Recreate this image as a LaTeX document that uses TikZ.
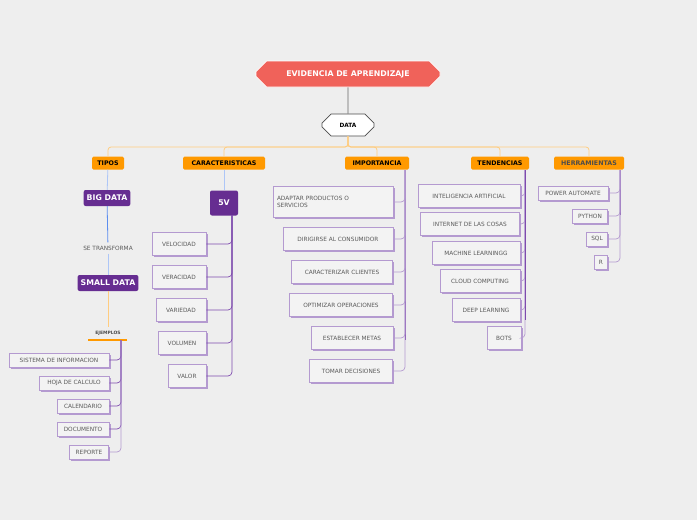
\documentclass[tikz,border=0pt]{standalone}
\usepackage{fontspec}
\setmainfont{DejaVu Sans}
\usetikzlibrary{shadows,shapes.misc}
\definecolor{bgc}{HTML}{EEEEEE}
\definecolor{titlec}{HTML}{F0625A}
\definecolor{orangec}{HTML}{FF9900}
\definecolor{purplec}{HTML}{662D91}
\definecolor{leafline}{HTML}{B49AD0}
\definecolor{spinec}{HTML}{7E4BAE}
\definecolor{bluec}{HTML}{5B8DEF}
\tikzset{
  topic/.style={fill=orangec,rounded corners=1.5pt,font=\fontsize{6.3}{7}\selectfont\bfseries,
    inner sep=1.5pt,minimum height=13},
  bigtopic/.style={fill=purplec,text=white,rounded corners=2pt,font=\fontsize{7.8}{8}\selectfont\bfseries,
    minimum height=16,inner sep=3pt},
  leaf/.style={draw=leafline,fill=bgc!70!white,line width=0.8pt,text=black!65,
    font=\fontsize{5.8}{6.8}\selectfont,minimum height=23,inner sep=2pt,
    drop shadow={shadow xshift=1.5pt,shadow yshift=-1.5pt,fill=leafline,opacity=1}},
  small/.style={leaf,minimum height=14},
  link/.style={spinec,line width=0.7pt,rounded corners=4pt},
  faint/.style={leafline,line width=0.7pt,rounded corners=4pt}
}
\begin{document}
\begin{tikzpicture}[x=1pt,y=-1pt]
  \fill[bgc] (0,0) rectangle (697,520);
  \useasboundingbox (0,0) rectangle (697,520);
  % title and centre
  \node[chamfered rectangle,chamfered rectangle xsep=10pt,fill=titlec,draw=white,line width=0.8pt,
    minimum width=184,minimum height=26,text=white,font=\fontsize{7.8}{8}\selectfont\bfseries]
    (title) at (348,74) {EVIDENCIA DE APRENDIZAJE};
  \node[chamfered rectangle,chamfered rectangle xsep=6pt,fill=white,draw=black!70,line width=0.6pt,
    minimum width=52,minimum height=22,font=\fontsize{5.8}{6}\selectfont\bfseries]
    (data) at (348,125) {DATA};
  \draw[black!60,line width=0.8pt] (title) -- (data);
  % categories
  \node[topic,minimum width=32] (tipos) at (108,163) {TIPOS};
  \node[topic,minimum width=82] (carac) at (224,163) {CARACTERISTICAS};
  \node[topic,minimum width=64] (impor) at (377,163) {IMPORTANCIA};
  \node[topic,minimum width=58] (tend) at (500,163) {TENDENCIAS};
  \node[topic,minimum width=70,text=black!70] (herr) at (589,163) {HERRAMIENTAS};
  \coordinate (hub) at (348,147);
  \foreach \c in {tipos,carac,impor,tend,herr}
    \draw[orangec!50,line width=0.8pt,rounded corners=3pt] (data.south) -- (hub) -| (\c.north);
  % tipos
  \node[bigtopic] (big) at (107,198) {BIG DATA};
  \node[font=\fontsize{5.8}{6.8}\selectfont,text=black!65] (trans) at (108,248) {SE TRANSFORMA};
  \node[bigtopic] (smalld) at (108,283) {SMALL DATA};
  \node[font=\fontsize{4.5}{5}\selectfont\bfseries,text=black!70] (ejem) at (108,333) {EJEMPLOS};
  \draw[orangec,line width=2pt] (88,339.5) coordinate (ejl) -- (127,339.5) coordinate (ejr);
  \draw[bluec!50,line width=0.8pt] (tipos) -- (big);
  \draw[bluec,line width=0.8pt] (big) -- (trans);
  \draw[bluec!50,line width=0.8pt] (trans) -- (smalld);
  \draw[orangec!50,line width=0.8pt] (smalld) -- (ejem);
  \coordinate (s1) at (121,340);
  \node[small,minimum width=100] (e1) at (59,360) {SISTEMA DE INFORMACION};
  \node[small,minimum width=70] (e2) at (74,383) {HOJA DE CALCULO};
  \node[small,minimum width=52] (e3) at (83,406) {CALENDARIO};
  \node[small,minimum width=52] (e4) at (83,429) {DOCUMENTO};
  \node[small,minimum width=39] (e5) at (89,452) {REPORTE};
  \foreach \n in {e1,e2,e3,e4} \draw[link] (s1) |- (\n.east);
  \draw[faint] (s1) |- (e5.east);
  % caracteristicas
  \node[bigtopic,minimum height=25,minimum width=28] (cinco) at (224,203) {5V};
  \draw[bluec!50,line width=0.8pt] (carac) -- (cinco);
  \coordinate (s2) at (232,215);
  \node[leaf,minimum width=54] (c1) at (179,244) {VELOCIDAD};
  \node[leaf,minimum width=54] (c2) at (179,277) {VERACIDAD};
  \node[leaf,minimum width=50] (c3) at (181,310) {VARIEDAD};
  \node[leaf,minimum width=48] (c4) at (182,343) {VOLUMEN};
  \node[leaf,minimum width=38] (c5) at (187,376) {VALOR};
  \foreach \n in {c1,c2,c3,c4,c5} \draw[link] (s2) |- (\n.east);
  % importancia
  \coordinate (s3) at (405,170);
  \node[leaf,minimum width=120,minimum height=31,align=left,text width=112] (i1) at (333,202)
    {ADAPTAR PRODUCTOS O\\SERVICIOS};
  \node[leaf,minimum width=110] (i2) at (338,239) {DIRIGIRSE AL CONSUMIDOR};
  \node[leaf,minimum width=101] (i3) at (342,272) {CARACTERIZAR CLIENTES};
  \node[leaf,minimum width=103] (i4) at (341,305) {OPTIMIZAR OPERACIONES};
  \node[leaf,minimum width=82] (i5) at (352,338) {ESTABLECER METAS};
  \node[leaf,minimum width=83] (i6) at (351,371) {TOMAR DECISIONES};
  \draw[link] (s3) -- (405,340);
  \foreach \n in {i1,i2,i3,i4,i5} \draw[faint] (s3) |- (\n.east);
  \draw[faint] (s3) |- (i6.east);
  % tendencias
  \coordinate (s4) at (525,170);
  \node[leaf,minimum width=102] (t1) at (469,196) {INTELIGENCIA ARTIFICIAL};
  \node[leaf,minimum width=99] (t2) at (470,224) {INTERNET DE LAS COSAS};
  \node[leaf,minimum width=88] (t3) at (476,253) {MACHINE LEARNINGG};
  \node[leaf,minimum width=80] (t4) at (480,281) {CLOUD COMPUTING};
  \node[leaf,minimum width=68] (t5) at (486,310) {DEEP LEARNING};
  \node[leaf,minimum width=34] (t6) at (504,338) {BOTS};
  \foreach \n in {t1,t2,t3,t4,t5,t6} \draw[faint] (s4) |- (\n.east);
  \draw[link] (s4) -- (525,320);
  % herramientas
  \coordinate (s5) at (620,170);
  \node[small,minimum width=70] (h1) at (573,193) {POWER AUTOMATE};
  \node[small,minimum width=35] (h2) at (590,216) {PYTHON};
  \node[small,minimum width=21] (h3) at (597,239) {SQL};
  \node[small,minimum width=13] (h4) at (601,262) {R};
  \draw[link] (s5) -- (620,215);
  \foreach \n in {h1,h2,h3,h4} \draw[faint] (s5) |- (\n.east);
\end{tikzpicture}
\end{document}
